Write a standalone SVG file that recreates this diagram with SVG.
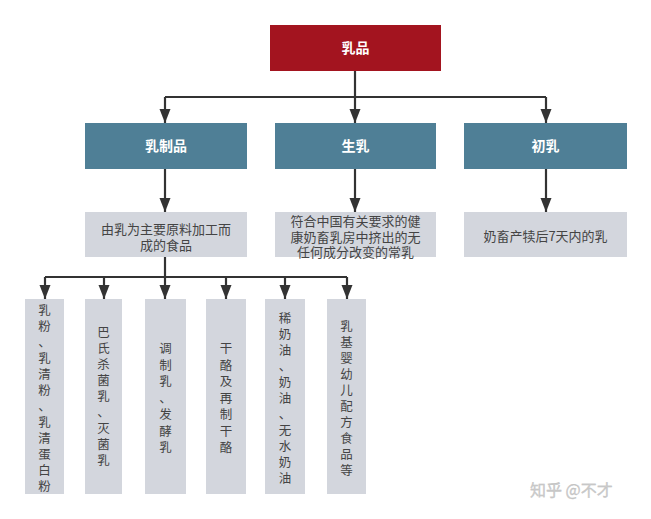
<svg xmlns="http://www.w3.org/2000/svg" width="651" height="519" viewBox="0 0 651 519">
<defs>
<marker id="arr" markerUnits="userSpaceOnUse" markerWidth="15" markerHeight="12" refX="14" refY="6" orient="auto">
<path d="M0,0.5 L14,6 L0,11.5 Z" fill="#333"/>
</marker>
<style>
.red{fill:#A3141F}
.teal{fill:#4F7F96}
.grey{fill:#D3D6DD}
.hd{font-family:"Noto Sans CJK SC","Liberation Sans",sans-serif;font-size:14px;font-weight:bold;fill:#fff;text-anchor:middle}
.tx{font-family:"Noto Sans CJK SC","Liberation Sans",sans-serif;font-size:13px;fill:#444;text-anchor:middle}
.vt{font-family:"Noto Sans CJK SC","Liberation Sans",sans-serif;font-size:12.5px;fill:#444;text-anchor:middle}
.ln{stroke:#333;stroke-width:2.2;fill:none}
.wm{font-family:"Noto Sans CJK SC","Liberation Sans",sans-serif;font-size:16px;fill:#ccc;stroke:#bbb;stroke-width:0.3}
</style>
</defs>
<rect width="651" height="519" fill="#fff"/>
<g id="connectors">
<path class="ln" d="M355,71 V97"/>
<path class="ln" d="M165,97 H546"/>
<path class="ln" d="M165,97 V123" marker-end="url(#arr)"/>
<path class="ln" d="M355,97 V123" marker-end="url(#arr)"/>
<path class="ln" d="M546,97 V123" marker-end="url(#arr)"/>
<path class="ln" d="M165,169 V212" marker-end="url(#arr)"/>
<path class="ln" d="M355,169 V212" marker-end="url(#arr)"/>
<path class="ln" d="M546,169 V212" marker-end="url(#arr)"/>
<path class="ln" d="M165,257 V277"/>
<path class="ln" d="M45,277 H347"/>
<path class="ln" d="M45,277 V299" marker-end="url(#arr)"/>
<path class="ln" d="M104,277 V299" marker-end="url(#arr)"/>
<path class="ln" d="M165,277 V299" marker-end="url(#arr)"/>
<path class="ln" d="M226,277 V299" marker-end="url(#arr)"/>
<path class="ln" d="M285,277 V299" marker-end="url(#arr)"/>
<path class="ln" d="M347,277 V299" marker-end="url(#arr)"/>
</g>
<g id="root"><rect class="red" x="270" y="25" width="171" height="46"/><text class="hd" x="355.5" y="53">乳品</text></g>
<g id="n1"><rect class="teal" x="85" y="123" width="162" height="46"/><text class="hd" x="166" y="151">乳制品</text></g>
<g id="n2"><rect class="teal" x="275" y="123" width="161" height="46"/><text class="hd" x="355.5" y="151">生乳</text></g>
<g id="n3"><rect class="teal" x="464" y="123" width="163" height="46"/><text class="hd" x="545.5" y="151">初乳</text></g>
<g id="d1"><rect class="grey" x="85" y="212" width="162" height="45"/><text class="tx" x="166" y="234">由乳为主要原料加工而</text><text class="tx" x="166" y="250">成的食品</text></g>
<g id="d2"><rect class="grey" x="275" y="212" width="161" height="45"/><text class="tx" x="355.5" y="226">符合中国有关要求的健</text><text class="tx" x="355.5" y="242">康奶畜乳房中挤出的无</text><text class="tx" x="355.5" y="257">任何成分改变的常乳</text></g>
<g id="d3"><rect class="grey" x="464" y="212" width="163" height="45"/><text class="tx" x="545.5" y="241">奶畜产犊后7天内的乳</text></g>
<g id="b1"><rect class="grey" x="25" y="299" width="39" height="195"/>
<text class="vt" x="44.5" y="315"><tspan x="44.5">乳</tspan><tspan x="44.5" dy="16">粉</tspan><tspan x="44.5" dy="16">、</tspan><tspan x="44.5" dy="16">乳</tspan><tspan x="44.5" dy="16">清</tspan><tspan x="44.5" dy="16">粉</tspan><tspan x="44.5" dy="16">、</tspan><tspan x="44.5" dy="16">乳</tspan><tspan x="44.5" dy="16">清</tspan><tspan x="44.5" dy="16">蛋</tspan><tspan x="44.5" dy="16">白</tspan><tspan x="44.5" dy="16">粉</tspan></text></g>
<g id="b2"><rect class="grey" x="85" y="299" width="37" height="195"/>
<text class="vt" x="103.5" y="337"><tspan x="103.5">巴</tspan><tspan x="103.5" dy="16">氏</tspan><tspan x="103.5" dy="16">杀</tspan><tspan x="103.5" dy="16">菌</tspan><tspan x="103.5" dy="16">乳</tspan><tspan x="103.5" dy="16">、</tspan><tspan x="103.5" dy="16">灭</tspan><tspan x="103.5" dy="16">菌</tspan><tspan x="103.5" dy="16">乳</tspan></text></g>
<g id="b3"><rect class="grey" x="145" y="299" width="41" height="195"/>
<text class="vt" x="165.5" y="353"><tspan x="165.5">调</tspan><tspan x="165.5" dy="16.5">制</tspan><tspan x="165.5" dy="16.5">乳</tspan><tspan x="165.5" dy="16.5">、</tspan><tspan x="165.5" dy="16.5">发</tspan><tspan x="165.5" dy="16.5">酵</tspan><tspan x="165.5" dy="16.5">乳</tspan></text></g>
<g id="b4"><rect class="grey" x="206" y="299" width="40" height="195"/>
<text class="vt" x="226" y="353"><tspan x="226">干</tspan><tspan x="226" dy="16.5">酪</tspan><tspan x="226" dy="16.5">及</tspan><tspan x="226" dy="16.5">再</tspan><tspan x="226" dy="16.5">制</tspan><tspan x="226" dy="16.5">干</tspan><tspan x="226" dy="16.5">酪</tspan></text></g>
<g id="b5"><rect class="grey" x="265" y="299" width="40" height="195"/>
<text class="vt" x="285" y="323"><tspan x="285">稀</tspan><tspan x="285" dy="16">奶</tspan><tspan x="285" dy="16">油</tspan><tspan x="285" dy="16">、</tspan><tspan x="285" dy="16">奶</tspan><tspan x="285" dy="16">油</tspan><tspan x="285" dy="16">、</tspan><tspan x="285" dy="16">无</tspan><tspan x="285" dy="16">水</tspan><tspan x="285" dy="16">奶</tspan><tspan x="285" dy="16">油</tspan></text></g>
<g id="b6"><rect class="grey" x="327" y="299" width="39" height="195"/>
<text class="vt" x="346.5" y="331"><tspan x="346.5">乳</tspan><tspan x="346.5" dy="16">基</tspan><tspan x="346.5" dy="16">婴</tspan><tspan x="346.5" dy="16">幼</tspan><tspan x="346.5" dy="16">儿</tspan><tspan x="346.5" dy="16">配</tspan><tspan x="346.5" dy="16">方</tspan><tspan x="346.5" dy="16">食</tspan><tspan x="346.5" dy="16">品</tspan><tspan x="346.5" dy="16">等</tspan></text></g>
<text class="wm" x="530" y="496">知乎 @不才</text>
</svg>
